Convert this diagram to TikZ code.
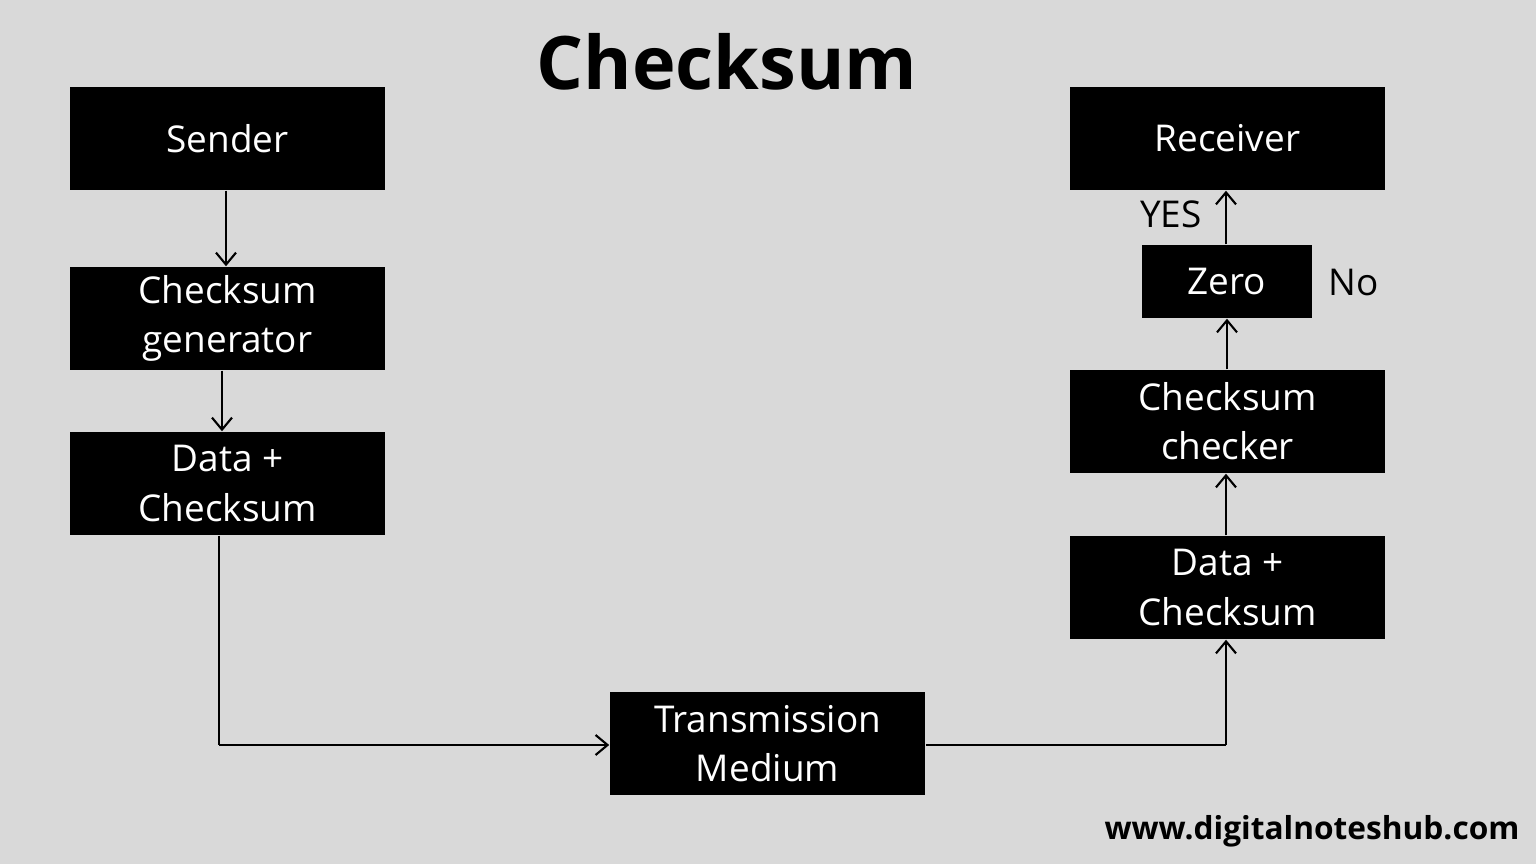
\documentclass[tikz,border=0pt]{standalone}
\usepackage{fontspec}
\setmainfont{Open Sans}
\usetikzlibrary{arrows.meta, positioning, calc}
\tikzset{
	stage/.style={rectangle, fill=black, text=white, minimum width=3.15cm, minimum height=1.03cm, align=center, inner sep=0pt, font=\fontsize{10.5}{14}\selectfont},
	link/.style={draw, line width=0.6pt, -{Straight Barb[length=1.2mm, width=2mm]}}
}
\begin{document}
\begin{tikzpicture}[x=0.01cm, y=-0.01cm]
	\fill[black!15] (0,0) rectangle (1536,864);
	
	% title and site
	\node[font=\bfseries\fontsize{21}{24}\selectfont] (title) at (727,62) {Checksum};
	\node[font=\bfseries\fontsize{9}{11}\selectfont] (site) at (1312,831) {www.digitalnoteshub.com};
	
	% Sender side
	\node[stage] (sender) at (227.5,138.5) {Sender};
	\node[stage] (generator) at (227.5,318.5) {Checksum\\generator};
	\node[stage] (send_data) at (227.5,483.5) {Data +\\Checksum};
	
	% medium
	\node[stage] (medium) at (767.5,743.5) {Transmission\\Medium};
	
	% Receiver side
	\node[stage] (receiver) at (1227.5,138.5) {Receiver};
	\node[stage, minimum width=1.7cm, minimum height=0.73cm] (zero) at (1227,281.5) {Zero};
	\node[stage] (checker) at (1227.5,421.5) {Checksum\\checker};
	\node[stage] (recv_data) at (1227.5,587.5) {Data +\\Checksum};
	
	\node[font=\fontsize{10.5}{14}\selectfont] (yes) at (1171,214) {YES};
	\node[font=\fontsize{10.5}{14}\selectfont] (no) at (1354,283) {No};
	
	% bus points
	\coordinate (col_a) at (226,0);
	\coordinate (col_b) at (222,0);
	\coordinate (left_corner) at (219,745);
	\coordinate (right_corner) at (1226,745);
	
	% connectors
	\draw[link] (sender.south -| col_a) -- (generator.north -| col_a);
	\draw[link] (generator.south -| col_b) -- (send_data.north -| col_b);
	\draw[line width=0.6pt] (send_data.south -| left_corner) -- (left_corner);
	\draw[link] (left_corner) -- (medium.west |- left_corner);
	\draw[line width=0.6pt] (medium.east |- right_corner) -- (right_corner);
	\draw[link] (right_corner) -- (recv_data.south -| right_corner);
	\draw[link] (recv_data.north -| right_corner) -- (checker.south -| right_corner);
	\draw[link] (checker.north -| zero) -- (zero.south);
	\draw[link] (zero.north -| right_corner) -- (receiver.south -| right_corner);
\end{tikzpicture}
\end{document}
